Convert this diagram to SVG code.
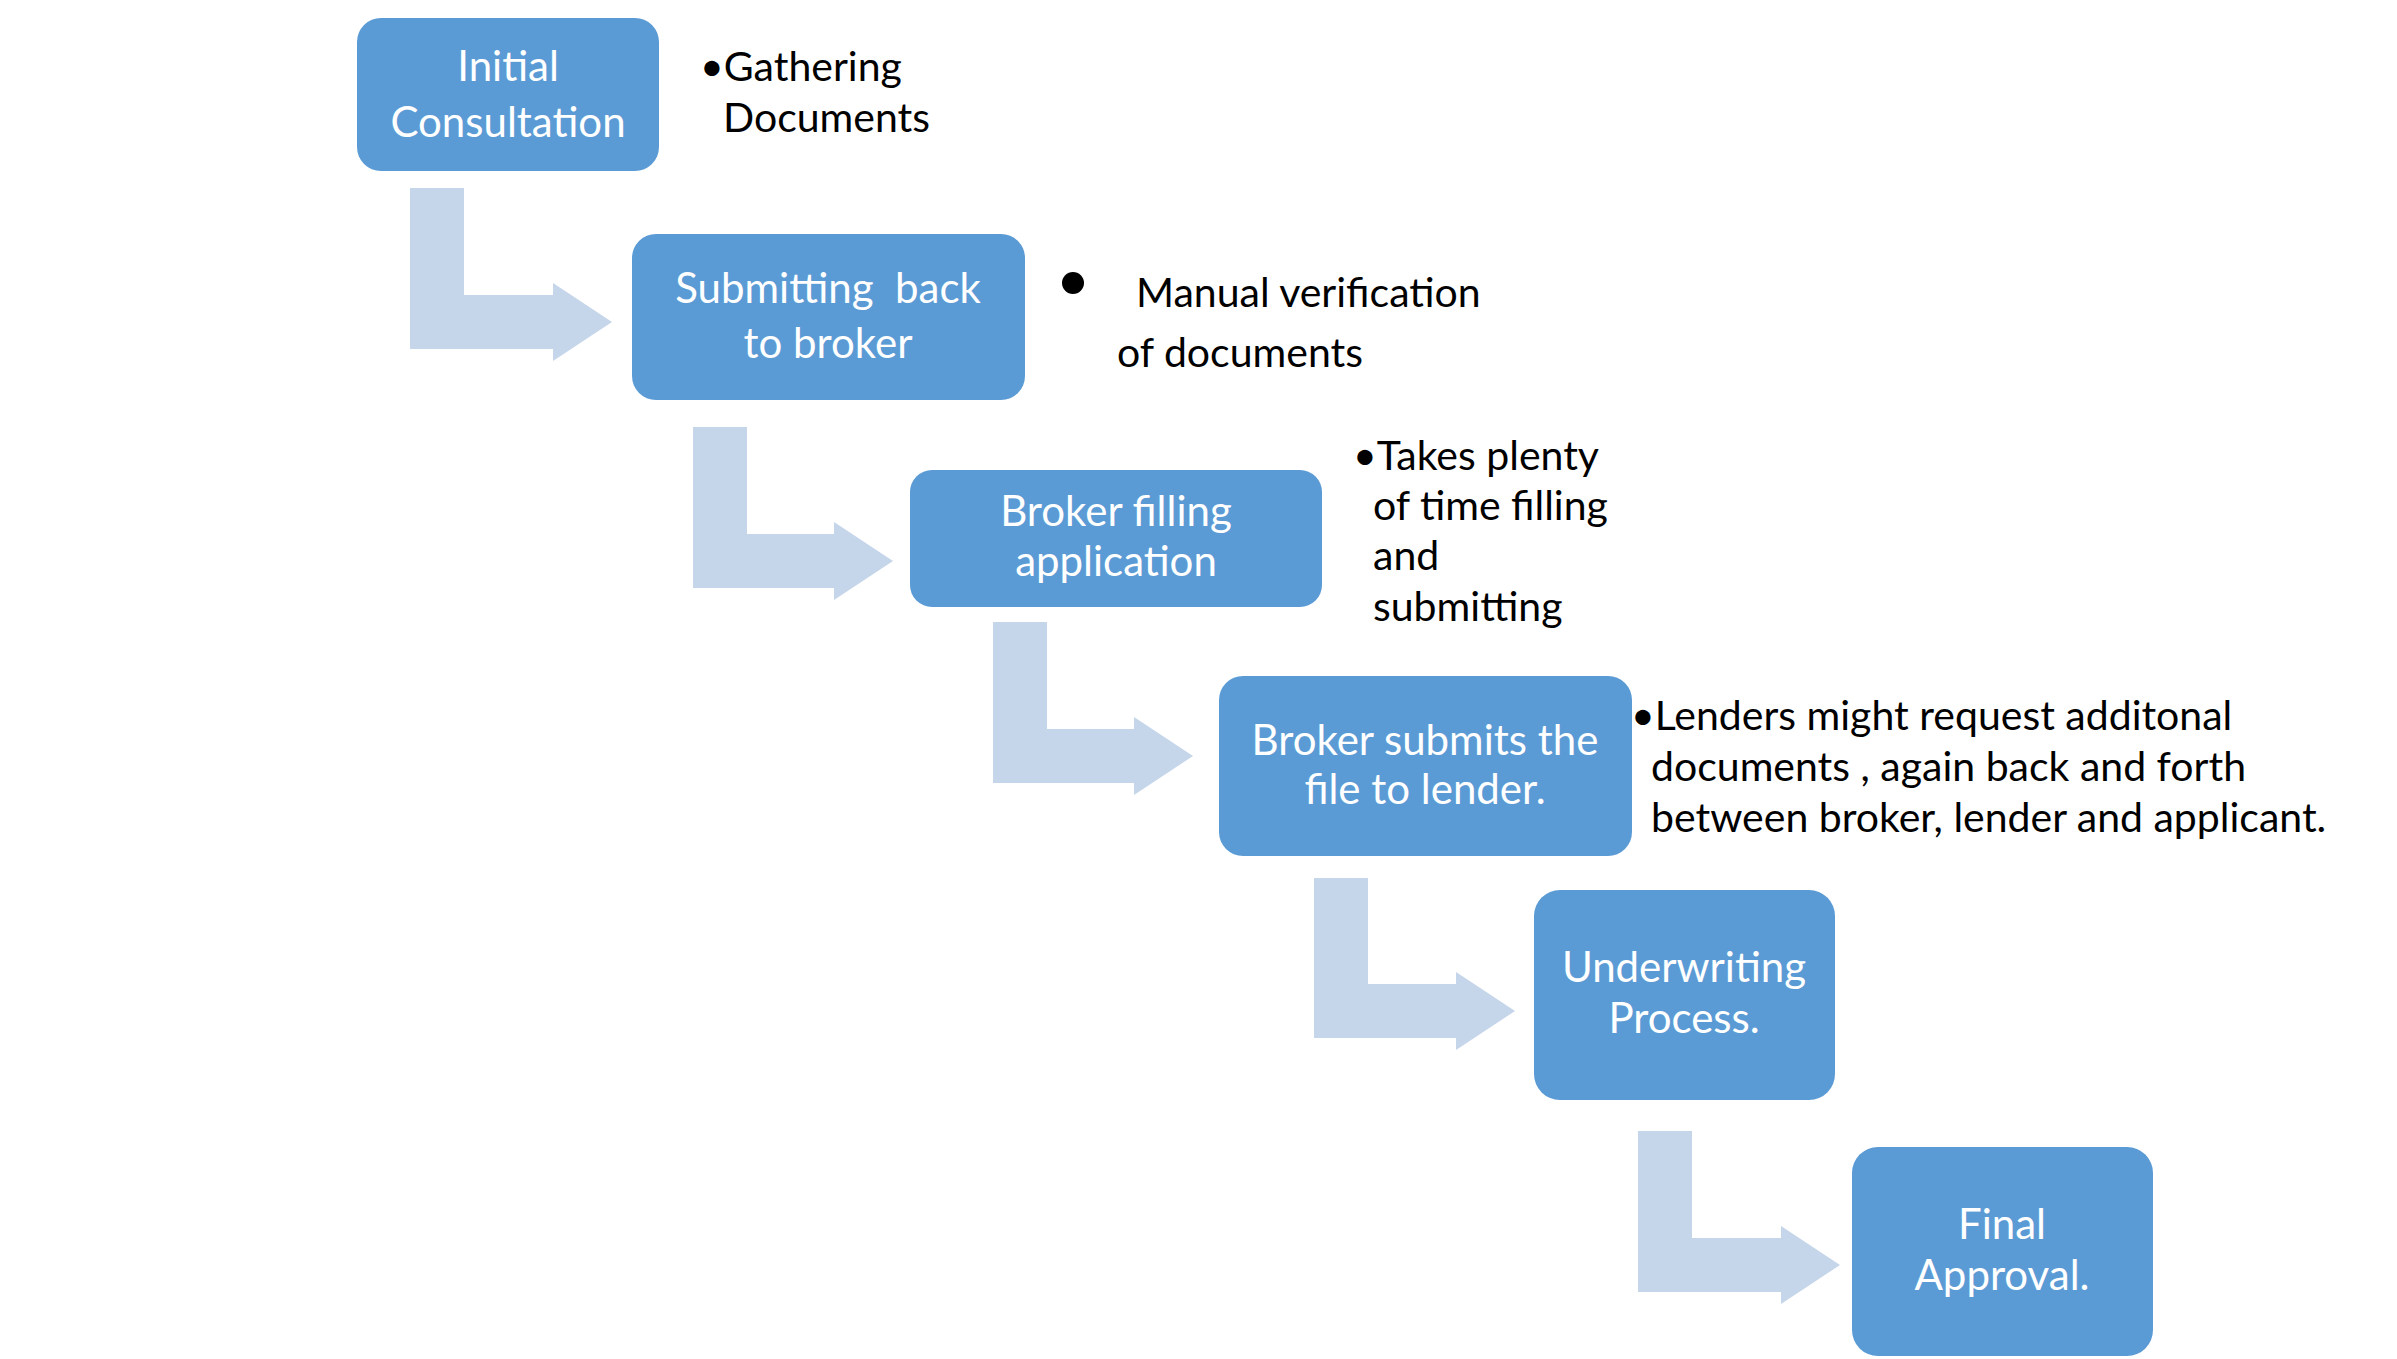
<svg xmlns="http://www.w3.org/2000/svg" width="2397" height="1359" viewBox="0 0 2397 1359">
<style>
.box{fill:#5B9BD5}
.arr{fill:#C5D5EA}
.bt{font-family:Lato,"Open Sans",sans-serif;font-size:42px;fill:#fff;text-anchor:middle}
.nt{font-family:Lato,"Open Sans",sans-serif;font-size:41px;fill:#000}
</style>
<rect width="2397" height="1359" fill="#fff"/>
<g id="connectors">
<path class="arr" d="M410 188H464V295H553V283L612 322L553 361V349H410Z"/>
<path class="arr" d="M693 427H747V534H834V522L893 561L834 600V588H693Z"/>
<path class="arr" d="M993 622H1047V729H1134V717L1193 756L1134 795V783H993Z"/>
<path class="arr" d="M1314 878H1368V984H1456V972L1515 1011L1456 1050V1038H1314Z"/>
<path class="arr" d="M1638 1131H1692V1238H1781V1226L1840 1265L1781 1304V1292H1638Z"/>
</g>
<g id="n1"><rect class="box" x="357" y="18" width="302" height="153" rx="24"/>
<text class="bt" x="508" y="81">Initial</text><text class="bt" x="508" y="137">Consultation</text></g>
<g id="n2"><rect class="box" x="632" y="234" width="393" height="166" rx="24"/>
<text class="bt" x="828" y="303" xml:space="preserve">Submitting  back</text><text class="bt" x="828" y="358">to broker</text></g>
<g id="n3"><rect class="box" x="910" y="470" width="412" height="137" rx="22"/>
<text class="bt" x="1116" y="526">Broker filling</text><text class="bt" x="1116" y="576">application</text></g>
<g id="n4"><rect class="box" x="1219" y="676" width="413" height="180" rx="24"/>
<text class="bt" x="1425" y="755">Broker submits the</text><text class="bt" x="1425" y="804">file to lender.</text></g>
<g id="n5"><rect class="box" x="1534" y="890" width="301" height="210" rx="26"/>
<text class="bt" x="1684" y="982">Underwriting</text><text class="bt" x="1684" y="1033">Process.</text></g>
<g id="n6"><rect class="box" x="1852" y="1147" width="301" height="209" rx="26"/>
<text class="bt" x="2002" y="1239">Final</text><text class="bt" x="2002" y="1290">Approval.</text></g>
<g id="notes">
<text class="nt" x="700" y="81">•Gathering</text><text class="nt" x="723" y="132">Documents</text>
<circle cx="1073" cy="283" r="11" fill="#000"/>
<text class="nt" x="1136" y="307">Manual verification</text><text class="nt" x="1117" y="367">of documents</text>
<text class="nt" x="1353" y="470">•Takes plenty</text><text class="nt" x="1373" y="520">of time filling</text><text class="nt" x="1373" y="570">and</text><text class="nt" x="1373" y="621">submitting</text>
<text class="nt" x="1631" y="730">•Lenders might request additonal</text><text class="nt" x="1651" y="781">documents , again back and forth</text><text class="nt" x="1651" y="832">between broker, lender and applicant.</text>
</g>
</svg>
